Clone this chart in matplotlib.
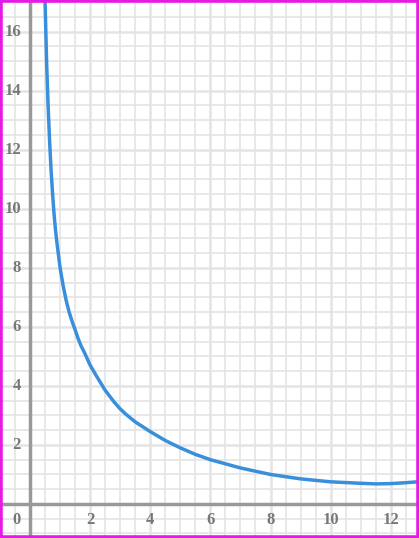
import numpy as np
import matplotlib.pyplot as plt

# points
curve_x = [0.5, 0.55, 0.6, 0.65, 0.7, 0.75, 0.8, 0.85, 0.9, 0.95, 1.0, 1.1, 1.2, 1.3, 1.4, 1.5, 1.6, 1.7, 1.8, 2.0, 2.2, 2.5, 2.8, 3.0, 3.2, 3.5, 4.0, 4.5, 5.0, 5.5, 6.0, 7.0, 8.0, 9.0, 10.0, 11.0, 11.5, 12.0, 12.5, 13.0]
curve_y = [17.0, 15.0, 13.5, 12.3, 11.3, 10.5, 9.8, 9.25, 8.8, 8.4, 8.0, 7.4, 6.9, 6.5, 6.18, 5.9, 5.6, 5.35, 5.15, 4.7, 4.35, 3.85, 3.45, 3.22, 3.03, 2.78, 2.45, 2.15, 1.9, 1.68, 1.5, 1.22, 1.0, 0.85, 0.75, 0.7, 0.68, 0.69, 0.72, 0.76]
xticks = [2, 4, 6, 8, 10, 12]
yticks = [2, 4, 6, 8, 10, 12, 14, 16]

fig = plt.figure(figsize=(4.19, 5.38), dpi=100)
ax = fig.add_axes([0.005, 0.004, 0.99, 0.992])
ax.set_xlim(-0.93, 12.87)
ax.set_ylim(-1.08, 17.0)

for v in np.arange(-0.5, 13.01, 0.5):
    ax.axvline(v, color='#e4e4e4', lw=1.2 if v % 2 else 1.8, zorder=0)
for v in np.arange(-1.0, 17.01, 0.5):
    ax.axhline(v, color='#e4e4e4', lw=1.2 if v % 2 else 1.8, zorder=0)
ax.axhline(0, color='#999999', lw=2.5, zorder=1)
ax.axvline(0, color='#999999', lw=2.5, zorder=1)

ax.plot(curve_x, curve_y, color='#3a8fdc', lw=2.5, zorder=3, solid_joinstyle='round')

font = dict(family='Liberation Serif', fontweight='bold', color='#777777', fontsize=12)
for t in xticks:
    ax.text(t, -0.55, str(t), ha='center', va='center', **font)
for t in yticks:
    ax.text(-0.3, t, str(t), ha='right', va='center', **font)
ax.text(-0.3, -0.55, '0', ha='right', va='center', **font)

ax.set_xticks([])
ax.set_yticks([])
for s in ax.spines.values():
    s.set_visible(False)
fig.patches.append(plt.Rectangle((0, 0), 1, 1, transform=fig.transFigure, fill=False, edgecolor='#e619e6', lw=4, zorder=10))
fig.savefig('out.png', dpi=100)
